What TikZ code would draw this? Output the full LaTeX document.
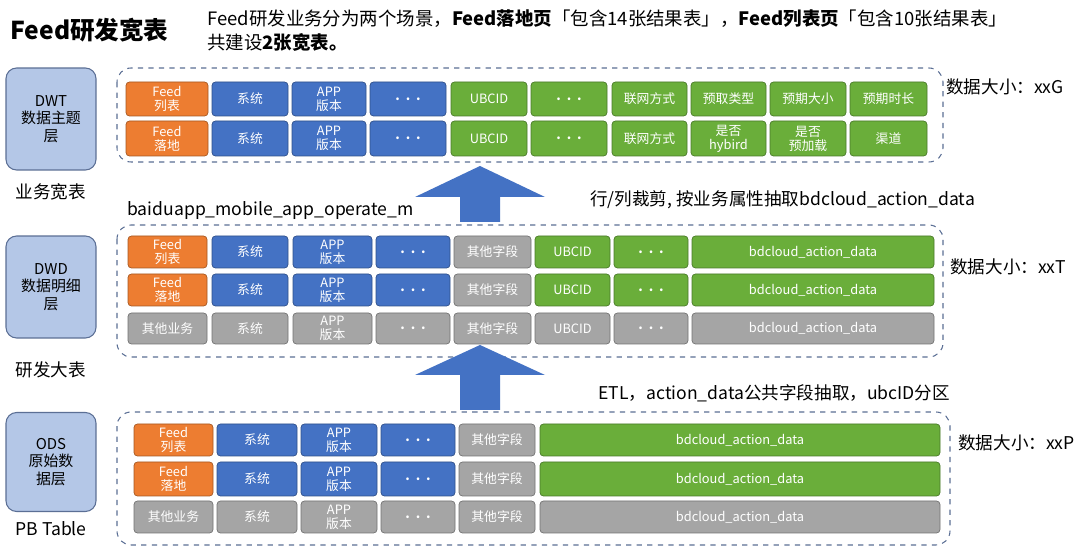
\documentclass[tikz,border=0pt]{standalone}
\usepackage{fontspec}
\setmainfont{Noto Sans CJK SC}
\begin{document}
\begin{tikzpicture}[x=0.02cm,y=-0.02cm,
 cellb/.style={rounded corners=2pt,draw=#1!70!black,fill=#1,text=white,font=\fontsize{7.3}{8}\selectfont,align=center,inner sep=0pt,line width=0.4pt},
 layer/.style={rounded corners=6pt,draw=lbd,fill=lbf,line width=0.6pt,align=center,font=\fontsize{8.5}{10}\selectfont},
 cont/.style={rounded corners=8pt,draw=lbd,dashed,line width=0.6pt},
 lbl/.style={font=\fontsize{10}{12}\selectfont,anchor=west,inner sep=0pt},
 bigarrow/.style={fill=ablue,draw=ablue}]
\definecolor{cor}{HTML}{ED7D31}
\definecolor{cbl}{HTML}{4472C4}
\definecolor{cgr}{HTML}{6AAE3A}
\definecolor{cgy}{HTML}{A5A5A5}
\definecolor{ablue}{HTML}{4472C4}
\definecolor{lbf}{HTML}{B4C7E7}
\definecolor{lbd}{HTML}{5B6F95}
\newcommand\cell[7]{\node[cellb=#2,minimum width={(#4-#3)*0.02cm},minimum height={(#6-#5)*0.02cm}] (#1) at ({(#3+#4)/2},{(#5+#6)/2}) {#7};}
\newcommand\dts{\textbf{.\ \ .\ \ .}}
\useasboundingbox[fill=white] (0,0) rectangle (1080,547);
% title
\node[anchor=west,inner sep=0pt,font=\fontsize{14}{16}\selectfont\bfseries] (title) at (10,30) {Feed研发宽表};
\node[anchor=north west,inner sep=0pt,align=left,font=\fontsize{10.5}{14}\selectfont] (intro) at (207,9) {Feed研发业务分为两个场景，\textbf{Feed落地页}「包含14张结果表」，\textbf{Feed列表页}「包含10张结果表」\\共建设\textbf{2张宽表。}};
% layers
\node[layer,minimum width=1.8cm,minimum height=2.04cm] (dwt) at (51,119) {DWT\\数据主题\\层};
\node[lbl,anchor=center] (dwtl) at (51,192) {业务宽表};
\node[layer,minimum width=1.8cm,minimum height=2.04cm] (dwd) at (51,287) {DWD\\数据明细\\层};
\node[lbl,anchor=center] (dwdl) at (51,370) {研发大表};
\node[layer,minimum width=1.8cm,minimum height=1.98cm] (ods) at (51,462) {ODS\\原始数\\据层};
\node[lbl,anchor=center] (odsl) at (51,529) {PB Table};
% containers
\draw[cont] (117,68) rectangle (943,162);
\draw[cont] (117,225) rectangle (943,357);
\draw[cont] (117,412) rectangle (950,545);
% DWT rows
\cell{a1}{cor}{126}{208}{82}{116}{Feed\\列表}
\cell{a2}{cbl}{212}{288}{82}{116}{系统}
\cell{a3}{cbl}{292}{366}{82}{116}{APP\\版本}
\cell{a4}{cbl}{370}{446}{82}{116}{\dts}
\cell{a5}{cgr}{451}{527}{82}{116}{UBCID}
\cell{a6}{cgr}{531}{607}{82}{116}{\dts}
\cell{a7}{cgr}{612}{687}{82}{116}{联网方式}
\cell{a8}{cgr}{691}{766}{82}{116}{预取类型}
\cell{a9}{cgr}{770}{846}{82}{116}{预期大小}
\cell{a10}{cgr}{850}{927}{82}{116}{预期时长}
\cell{b1}{cor}{126}{208}{121}{156}{Feed\\落地}
\cell{b2}{cbl}{212}{288}{121}{156}{系统}
\cell{b3}{cbl}{292}{366}{121}{156}{APP\\版本}
\cell{b4}{cbl}{370}{446}{121}{156}{\dts}
\cell{b5}{cgr}{451}{527}{121}{156}{UBCID}
\cell{b6}{cgr}{531}{607}{121}{156}{\dts}
\cell{b7}{cgr}{612}{687}{121}{156}{联网方式}
\cell{b8}{cgr}{691}{766}{121}{156}{是否\\hybird}
\cell{b9}{cgr}{770}{846}{121}{156}{是否\\预加载}
\cell{b10}{cgr}{850}{927}{121}{156}{渠道}
\node[lbl] (sg) at (946,87) {数据大小：xxG};
% arrow 1
\fill[ablue] (480,166) -- (545,197) -- (500,197) -- (500,222) -- (460,222) -- (460,197) -- (415,197) -- cycle;
\node[lbl] (t1) at (127,211) {baiduapp\_mobile\_app\_operate\_m};
\node[lbl] (t2) at (590,200) {行/列裁剪, 按业务属性抽取bdcloud\_action\_data};
% DWD rows
\cell{c1}{cor}{128}{207}{236}{268}{Feed\\列表}
\cell{c2}{cbl}{212}{288}{236}{268}{系统}
\cell{c3}{cbl}{293}{372}{236}{268}{APP\\版本}
\cell{c4}{cbl}{376}{450}{236}{268}{\dts}
\cell{c5}{cgy}{454}{531}{236}{268}{其他字段}
\cell{c6}{cgr}{535}{610}{236}{268}{UBCID}
\cell{c7}{cgr}{614}{688}{236}{268}{\dts}
\cell{c8}{cgr}{692}{934}{236}{268}{bdcloud\_action\_data}
\cell{d1}{cor}{128}{207}{274}{306}{Feed\\落地}
\cell{d2}{cbl}{212}{288}{274}{306}{系统}
\cell{d3}{cbl}{293}{372}{274}{306}{APP\\版本}
\cell{d4}{cbl}{376}{450}{274}{306}{\dts}
\cell{d5}{cgy}{454}{531}{274}{306}{其他字段}
\cell{d6}{cgr}{535}{610}{274}{306}{UBCID}
\cell{d7}{cgr}{614}{688}{274}{306}{\dts}
\cell{d8}{cgr}{692}{934}{274}{306}{bdcloud\_action\_data}
\cell{e1}{cgy}{128}{207}{313}{344}{其他业务}
\cell{e2}{cgy}{212}{288}{313}{344}{系统}
\cell{e3}{cgy}{293}{372}{313}{344}{APP\\版本}
\cell{e4}{cgy}{376}{450}{313}{344}{\dts}
\cell{e5}{cgy}{454}{531}{313}{344}{其他字段}
\cell{e6}{cgy}{535}{610}{313}{344}{UBCID}
\cell{e7}{cgy}{614}{688}{313}{344}{\dts}
\cell{e8}{cgy}{692}{934}{313}{344}{bdcloud\_action\_data}
\node[lbl] (st) at (950,267) {数据大小：xxT};
% arrow 2
\fill[ablue] (480,345) -- (545,375) -- (500,375) -- (500,410) -- (460,410) -- (460,375) -- (415,375) -- cycle;
\node[lbl] (t3) at (598,393) {ETL，action\_data公共字段抽取，ubcID分区};
% ODS rows
\cell{f1}{cor}{134}{213}{424}{456}{Feed\\列表}
\cell{f2}{cbl}{217}{297}{424}{456}{系统}
\cell{f3}{cbl}{301}{377}{424}{456}{APP\\版本}
\cell{f4}{cbl}{381}{455}{424}{456}{\dts}
\cell{f5}{cgy}{459}{535}{424}{456}{其他字段}
\cell{f6}{cgr}{540}{940}{424}{456}{bdcloud\_action\_data}
\cell{g1}{cor}{134}{213}{462}{496}{Feed\\落地}
\cell{g2}{cbl}{217}{297}{462}{496}{系统}
\cell{g3}{cbl}{301}{377}{462}{496}{APP\\版本}
\cell{g4}{cbl}{381}{455}{462}{496}{\dts}
\cell{g5}{cgy}{459}{535}{462}{496}{其他字段}
\cell{g6}{cgr}{540}{940}{462}{496}{bdcloud\_action\_data}
\cell{h1}{cgy}{134}{213}{501}{533}{其他业务}
\cell{h2}{cgy}{217}{297}{501}{533}{系统}
\cell{h3}{cgy}{301}{377}{501}{533}{APP\\版本}
\cell{h4}{cgy}{381}{455}{501}{533}{\dts}
\cell{h5}{cgy}{459}{535}{501}{533}{其他字段}
\cell{h6}{cgy}{540}{940}{501}{533}{bdcloud\_action\_data}
\node[lbl] (sp) at (958,443) {数据大小：xxP};
\end{tikzpicture}
\end{document}
